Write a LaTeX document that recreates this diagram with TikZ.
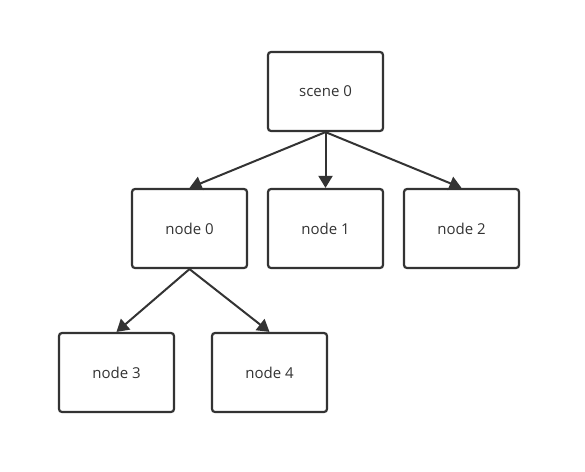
\documentclass[tikz,border=0pt]{standalone}
\usepackage{fontspec}
\setmainfont{Open Sans}
\usetikzlibrary{arrows.meta}
\definecolor{ink}{HTML}{333333}
\newcommand\boxlbl[1]{\raisebox{-3pt}{#1}}
\tikzset{
  box/.style={draw=ink, line width=2.2pt, rounded corners=3pt, minimum width=115pt, minimum height=79pt, inner sep=0pt, text=ink, font=\fontsize{15}{17}\selectfont},
  link/.style={draw=ink, line width=2pt, -{Triangle[length=12pt,width=14pt]}}
}
\begin{document}
\begin{tikzpicture}[x=1pt,y=-1pt]
\useasboundingbox (0,0) rectangle (585,471);
\node[box] (s0) at (325.5,91.5) {\boxlbl{scene 0}};
\node[box] (n0) at (189.5,228.5) {\boxlbl{node 0}};
\node[box] (n1) at (325.5,228.5) {\boxlbl{node 1}};
\node[box] (n2) at (461.5,228.5) {\boxlbl{node 2}};
\node[box] (n3) at (116.5,372.5) {\boxlbl{node 3}};
\node[box] (n4) at (269.5,372.5) {\boxlbl{node 4}};
\draw[link] (s0.south) -- (n0.north);
\draw[link] (s0.south) -- (n1.north);
\draw[link] (s0.south) -- (n2.north);
\draw[link] (n0.south) -- (n3.north);
\draw[link] (n0.south) -- (n4.north);
\end{tikzpicture}
\end{document}
